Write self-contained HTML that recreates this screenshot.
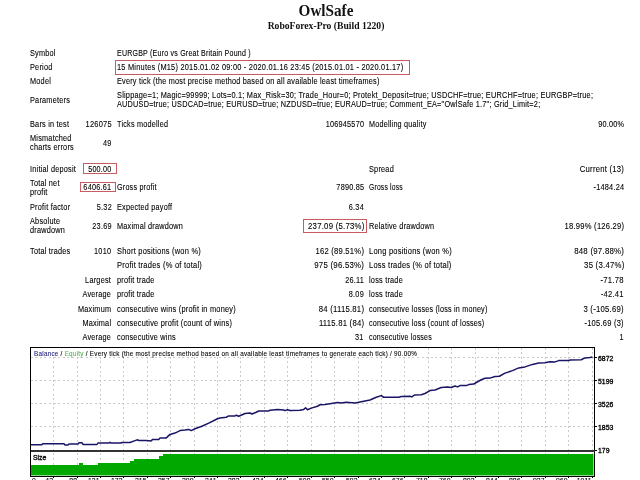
<!DOCTYPE html>
<html><head><meta charset="utf-8"><style>
html,body{margin:0;padding:0;background:#fff;width:640px;height:480px;overflow:hidden;position:relative}
.t{position:absolute;white-space:nowrap;line-height:1;font-family:"Liberation Sans",sans-serif;color:#000;-webkit-text-stroke:0.1px #000}
.bx{position:absolute;border:1px solid #c85a62;box-sizing:border-box}
.h1{position:absolute;left:0;width:652px;text-align:center;font-family:"Liberation Serif",serif;font-weight:bold;color:#111;line-height:1;white-space:nowrap}
</style></head><body>
<div class="bx" style="left:115.0px;top:60.0px;width:295.0px;height:15.0px"></div>
<div class="bx" style="left:83.0px;top:163.0px;width:34.0px;height:11.0px"></div>
<div class="bx" style="left:80.0px;top:182.0px;width:36.0px;height:10.0px"></div>
<div class="bx" style="left:303.0px;top:219.0px;width:64.0px;height:14.0px"></div>
<div style="position:absolute;left:0;top:0;width:640px;height:480px;filter:grayscale(1)">
<div class="h1" style="top:2.83px;font-size:15.9px;transform:scaleX(0.955);transform-origin:326px 0">OwlSafe</div>
<div class="h1" style="top:20.90px;font-size:9.65px">RoboForex-Pro (Build 1220)</div>
<div class="t" style="top:50.00px;font-size:8.2px;letter-spacing:0.25px;left:29.70px;transform:scaleX(0.8930);transform-origin:0 0;">Symbol</div>
<div class="t" style="top:64.00px;font-size:8.2px;letter-spacing:0.25px;left:29.70px;transform:scaleX(0.8930);transform-origin:0 0;">Period</div>
<div class="t" style="top:78.00px;font-size:8.2px;letter-spacing:0.25px;left:29.70px;transform:scaleX(0.8930);transform-origin:0 0;">Model</div>
<div class="t" style="top:97.00px;font-size:8.2px;letter-spacing:0.25px;left:29.70px;transform:scaleX(0.8930);transform-origin:0 0;">Parameters</div>
<div class="t" style="top:121.00px;font-size:8.2px;letter-spacing:0.25px;left:29.70px;transform:scaleX(0.8930);transform-origin:0 0;">Bars in test</div>
<div class="t" style="top:135.00px;font-size:8.2px;letter-spacing:0.25px;left:29.70px;transform:scaleX(0.8930);transform-origin:0 0;">Mismatched</div>
<div class="t" style="top:144.00px;font-size:8.2px;letter-spacing:0.25px;left:29.70px;transform:scaleX(0.8930);transform-origin:0 0;">charts errors</div>
<div class="t" style="top:166.00px;font-size:8.2px;letter-spacing:0.25px;left:29.70px;transform:scaleX(0.8930);transform-origin:0 0;">Initial deposit</div>
<div class="t" style="top:180.00px;font-size:8.2px;letter-spacing:0.25px;left:29.70px;transform:scaleX(0.8930);transform-origin:0 0;">Total net</div>
<div class="t" style="top:189.00px;font-size:8.2px;letter-spacing:0.25px;left:29.70px;transform:scaleX(0.8930);transform-origin:0 0;">profit</div>
<div class="t" style="top:204.00px;font-size:8.2px;letter-spacing:0.25px;left:29.70px;transform:scaleX(0.8930);transform-origin:0 0;">Profit factor</div>
<div class="t" style="top:218.00px;font-size:8.2px;letter-spacing:0.25px;left:29.70px;transform:scaleX(0.8930);transform-origin:0 0;">Absolute</div>
<div class="t" style="top:227.00px;font-size:8.2px;letter-spacing:0.25px;left:29.70px;transform:scaleX(0.8930);transform-origin:0 0;">drawdown</div>
<div class="t" style="top:248.00px;font-size:8.2px;letter-spacing:0.25px;left:29.70px;transform:scaleX(0.8930);transform-origin:0 0;">Total trades</div>
<div class="t" style="top:50.00px;font-size:8.2px;letter-spacing:0.25px;left:117.00px;transform:scaleX(0.8594);transform-origin:0 0;">EURGBP (Euro vs Great Britain Pound )</div>
<div class="t" style="top:64.00px;font-size:8.2px;letter-spacing:0.25px;left:117.00px;transform:scaleX(0.9028);transform-origin:0 0;">15 Minutes (M15) 2015.01.02 09:00 - 2020.01.16 23:45 (2015.01.01 - 2020.01.17)</div>
<div class="t" style="top:78.00px;font-size:8.2px;letter-spacing:0.25px;left:117.00px;transform:scaleX(0.8896);transform-origin:0 0;">Every tick (the most precise method based on all available least timeframes)</div>
<div class="t" style="top:92.00px;font-size:8.2px;letter-spacing:0.25px;left:117.00px;transform:scaleX(0.8977);transform-origin:0 0;">Slippage=1; Magic=99999; Lots=0.1; Max_Risk=30; Trade_Hour=0; Protekt_Deposit=true; USDCHF=true; EURCHF=true; EURGBP=true;</div>
<div class="t" style="top:101.00px;font-size:8.2px;letter-spacing:0.25px;left:117.00px;transform:scaleX(0.8909);transform-origin:0 0;">AUDUSD=true; USDCAD=true; EURUSD=true; NZDUSD=true; EURAUD=true; Comment_EA="OwlSafe 1.7"; Grid_Limit=2;</div>
<div class="t" style="top:121.00px;font-size:8.2px;letter-spacing:0.25px;right:528.50px;transform:scaleX(0.9117);transform-origin:100% 0;">126075</div>
<div class="t" style="top:140.00px;font-size:8.2px;letter-spacing:0.25px;right:528.50px;transform:scaleX(0.8930);transform-origin:100% 0;">49</div>
<div class="t" style="top:166.00px;font-size:8.2px;letter-spacing:0.25px;right:528.50px;transform:scaleX(0.8814);transform-origin:100% 0;">500.00</div>
<div class="t" style="top:184.00px;font-size:8.2px;letter-spacing:0.25px;right:528.50px;transform:scaleX(0.8933);transform-origin:100% 0;">6406.61</div>
<div class="t" style="top:204.00px;font-size:8.2px;letter-spacing:0.25px;right:528.50px;transform:scaleX(0.8930);transform-origin:100% 0;">5.32</div>
<div class="t" style="top:223.00px;font-size:8.2px;letter-spacing:0.25px;right:528.50px;transform:scaleX(0.8930);transform-origin:100% 0;">23.69</div>
<div class="t" style="top:248.00px;font-size:8.2px;letter-spacing:0.25px;right:528.50px;transform:scaleX(0.8930);transform-origin:100% 0;">1010</div>
<div class="t" style="top:277.00px;font-size:8.2px;letter-spacing:0.25px;right:528.50px;transform:scaleX(0.8930);transform-origin:100% 0;">Largest</div>
<div class="t" style="top:291.00px;font-size:8.2px;letter-spacing:0.25px;right:528.50px;transform:scaleX(0.8930);transform-origin:100% 0;">Average</div>
<div class="t" style="top:306.00px;font-size:8.2px;letter-spacing:0.25px;right:528.50px;transform:scaleX(0.8930);transform-origin:100% 0;">Maximum</div>
<div class="t" style="top:320.00px;font-size:8.2px;letter-spacing:0.25px;right:528.50px;transform:scaleX(0.8930);transform-origin:100% 0;">Maximal</div>
<div class="t" style="top:334.00px;font-size:8.2px;letter-spacing:0.25px;right:528.50px;transform:scaleX(0.8930);transform-origin:100% 0;">Average</div>
<div class="t" style="top:121.00px;font-size:8.2px;letter-spacing:0.25px;left:117.00px;transform:scaleX(0.8860);transform-origin:0 0;">Ticks modelled</div>
<div class="t" style="top:184.00px;font-size:8.2px;letter-spacing:0.25px;left:117.00px;transform:scaleX(0.8751);transform-origin:0 0;">Gross profit</div>
<div class="t" style="top:204.00px;font-size:8.2px;letter-spacing:0.25px;left:117.00px;transform:scaleX(0.8868);transform-origin:0 0;">Expected payoff</div>
<div class="t" style="top:223.00px;font-size:8.2px;letter-spacing:0.25px;left:117.00px;transform:scaleX(0.8932);transform-origin:0 0;">Maximal drawdown</div>
<div class="t" style="top:248.00px;font-size:8.2px;letter-spacing:0.25px;left:117.00px;transform:scaleX(0.9108);transform-origin:0 0;">Short positions (won %)</div>
<div class="t" style="top:262.00px;font-size:8.2px;letter-spacing:0.25px;left:117.00px;transform:scaleX(0.9195);transform-origin:0 0;">Profit trades (% of total)</div>
<div class="t" style="top:277.00px;font-size:8.2px;letter-spacing:0.25px;left:117.00px;transform:scaleX(0.8930);transform-origin:0 0;">profit trade</div>
<div class="t" style="top:291.00px;font-size:8.2px;letter-spacing:0.25px;left:117.00px;transform:scaleX(0.8930);transform-origin:0 0;">profit trade</div>
<div class="t" style="top:306.00px;font-size:8.2px;letter-spacing:0.25px;left:117.00px;transform:scaleX(0.9023);transform-origin:0 0;">consecutive wins (profit in money)</div>
<div class="t" style="top:320.00px;font-size:8.2px;letter-spacing:0.25px;left:117.00px;transform:scaleX(0.9012);transform-origin:0 0;">consecutive profit (count of wins)</div>
<div class="t" style="top:334.00px;font-size:8.2px;letter-spacing:0.25px;left:117.00px;transform:scaleX(0.8930);transform-origin:0 0;">consecutive wins</div>
<div class="t" style="top:121.00px;font-size:8.2px;letter-spacing:0.25px;right:276.00px;transform:scaleX(0.8930);transform-origin:100% 0;">106945570</div>
<div class="t" style="top:184.00px;font-size:8.2px;letter-spacing:0.25px;right:276.00px;transform:scaleX(0.8930);transform-origin:100% 0;">7890.85</div>
<div class="t" style="top:204.00px;font-size:8.2px;letter-spacing:0.25px;right:276.00px;transform:scaleX(0.8930);transform-origin:100% 0;">6.34</div>
<div class="t" style="top:223.00px;font-size:8.2px;letter-spacing:0.25px;right:276.00px;transform:scaleX(0.9486);transform-origin:100% 0;">237.09 (5.73%)</div>
<div class="t" style="top:248.00px;font-size:8.2px;letter-spacing:0.25px;right:276.00px;transform:scaleX(0.9339);transform-origin:100% 0;">162 (89.51%)</div>
<div class="t" style="top:262.00px;font-size:8.2px;letter-spacing:0.25px;right:276.00px;transform:scaleX(0.9576);transform-origin:100% 0;">975 (96.53%)</div>
<div class="t" style="top:277.00px;font-size:8.2px;letter-spacing:0.25px;right:276.00px;transform:scaleX(0.8930);transform-origin:100% 0;">26.11</div>
<div class="t" style="top:291.00px;font-size:8.2px;letter-spacing:0.25px;right:276.00px;transform:scaleX(0.8930);transform-origin:100% 0;">8.09</div>
<div class="t" style="top:306.00px;font-size:8.2px;letter-spacing:0.25px;right:276.00px;transform:scaleX(0.9441);transform-origin:100% 0;">84 (1115.81)</div>
<div class="t" style="top:320.00px;font-size:8.2px;letter-spacing:0.25px;right:276.00px;transform:scaleX(0.9399);transform-origin:100% 0;">1115.81 (84)</div>
<div class="t" style="top:334.00px;font-size:8.2px;letter-spacing:0.25px;right:276.00px;transform:scaleX(0.8930);transform-origin:100% 0;">31</div>
<div class="t" style="top:121.00px;font-size:8.2px;letter-spacing:0.25px;left:368.90px;transform:scaleX(0.8807);transform-origin:0 0;">Modelling quality</div>
<div class="t" style="top:166.00px;font-size:8.2px;letter-spacing:0.25px;left:368.90px;transform:scaleX(0.8930);transform-origin:0 0;">Spread</div>
<div class="t" style="top:184.00px;font-size:8.2px;letter-spacing:0.25px;left:368.90px;transform:scaleX(0.8241);transform-origin:0 0;">Gross loss</div>
<div class="t" style="top:223.00px;font-size:8.2px;letter-spacing:0.25px;left:368.90px;transform:scaleX(0.8903);transform-origin:0 0;">Relative drawdown</div>
<div class="t" style="top:248.00px;font-size:8.2px;letter-spacing:0.25px;left:368.90px;transform:scaleX(0.9153);transform-origin:0 0;">Long positions (won %)</div>
<div class="t" style="top:262.00px;font-size:8.2px;letter-spacing:0.25px;left:368.90px;transform:scaleX(0.9157);transform-origin:0 0;">Loss trades (% of total)</div>
<div class="t" style="top:277.00px;font-size:8.2px;letter-spacing:0.25px;left:368.90px;transform:scaleX(0.8930);transform-origin:0 0;">loss trade</div>
<div class="t" style="top:291.00px;font-size:8.2px;letter-spacing:0.25px;left:368.90px;transform:scaleX(0.8930);transform-origin:0 0;">loss trade</div>
<div class="t" style="top:306.00px;font-size:8.2px;letter-spacing:0.25px;left:368.90px;transform:scaleX(0.8781);transform-origin:0 0;">consecutive losses (loss in money)</div>
<div class="t" style="top:320.00px;font-size:8.2px;letter-spacing:0.25px;left:368.90px;transform:scaleX(0.8822);transform-origin:0 0;">consecutive loss (count of losses)</div>
<div class="t" style="top:334.00px;font-size:8.2px;letter-spacing:0.25px;left:368.90px;transform:scaleX(0.8600);transform-origin:0 0;">consecutive losses</div>
<div class="t" style="top:121.00px;font-size:8.2px;letter-spacing:0.25px;right:15.90px;transform:scaleX(0.8930);transform-origin:100% 0;">90.00%</div>
<div class="t" style="top:166.00px;font-size:8.2px;letter-spacing:0.25px;right:15.90px;transform:scaleX(0.9411);transform-origin:100% 0;">Current (13)</div>
<div class="t" style="top:184.00px;font-size:8.2px;letter-spacing:0.25px;right:15.90px;transform:scaleX(0.8991);transform-origin:100% 0;">-1484.24</div>
<div class="t" style="top:223.00px;font-size:8.2px;letter-spacing:0.25px;right:15.90px;transform:scaleX(0.9284);transform-origin:100% 0;">18.99% (126.29)</div>
<div class="t" style="top:248.00px;font-size:8.2px;letter-spacing:0.25px;right:15.90px;transform:scaleX(0.9585);transform-origin:100% 0;">848 (97.88%)</div>
<div class="t" style="top:262.00px;font-size:8.2px;letter-spacing:0.25px;right:15.90px;transform:scaleX(0.9510);transform-origin:100% 0;">35 (3.47%)</div>
<div class="t" style="top:277.00px;font-size:8.2px;letter-spacing:0.25px;right:15.90px;transform:scaleX(0.9403);transform-origin:100% 0;">-71.78</div>
<div class="t" style="top:291.00px;font-size:8.2px;letter-spacing:0.25px;right:15.90px;transform:scaleX(0.9320);transform-origin:100% 0;">-42.41</div>
<div class="t" style="top:306.00px;font-size:8.2px;letter-spacing:0.25px;right:15.90px;transform:scaleX(0.9439);transform-origin:100% 0;">3 (-105.69)</div>
<div class="t" style="top:320.00px;font-size:8.2px;letter-spacing:0.25px;right:15.90px;transform:scaleX(0.9197);transform-origin:100% 0;">-105.69 (3)</div>
<div class="t" style="top:334.00px;font-size:8.2px;letter-spacing:0.25px;right:15.90px;transform:scaleX(0.8930);transform-origin:100% 0;">1</div>
</div>
<svg width="640" height="480" style="position:absolute;left:0;top:0" shape-rendering="crispEdges">
<line x1="53.5" y1="347.5" x2="53.5" y2="476.5" stroke="#cacaca" stroke-width="1" stroke-dasharray="2,2.6"/>
<line x1="53.5" y1="476.5" x2="53.5" y2="477.5" stroke="#000" stroke-width="1"/>
<line x1="77.5" y1="347.5" x2="77.5" y2="476.5" stroke="#cacaca" stroke-width="1" stroke-dasharray="2,2.6"/>
<line x1="77.5" y1="476.5" x2="77.5" y2="477.5" stroke="#000" stroke-width="1"/>
<line x1="100.5" y1="347.5" x2="100.5" y2="476.5" stroke="#cacaca" stroke-width="1" stroke-dasharray="2,2.6"/>
<line x1="100.5" y1="476.5" x2="100.5" y2="477.5" stroke="#000" stroke-width="1"/>
<line x1="123.5" y1="347.5" x2="123.5" y2="476.5" stroke="#cacaca" stroke-width="1" stroke-dasharray="2,2.6"/>
<line x1="123.5" y1="476.5" x2="123.5" y2="477.5" stroke="#000" stroke-width="1"/>
<line x1="147.5" y1="347.5" x2="147.5" y2="476.5" stroke="#cacaca" stroke-width="1" stroke-dasharray="2,2.6"/>
<line x1="147.5" y1="476.5" x2="147.5" y2="477.5" stroke="#000" stroke-width="1"/>
<line x1="170.5" y1="347.5" x2="170.5" y2="476.5" stroke="#cacaca" stroke-width="1" stroke-dasharray="2,2.6"/>
<line x1="170.5" y1="476.5" x2="170.5" y2="477.5" stroke="#000" stroke-width="1"/>
<line x1="194.5" y1="347.5" x2="194.5" y2="476.5" stroke="#cacaca" stroke-width="1" stroke-dasharray="2,2.6"/>
<line x1="194.5" y1="476.5" x2="194.5" y2="477.5" stroke="#000" stroke-width="1"/>
<line x1="217.5" y1="347.5" x2="217.5" y2="476.5" stroke="#cacaca" stroke-width="1" stroke-dasharray="2,2.6"/>
<line x1="217.5" y1="476.5" x2="217.5" y2="477.5" stroke="#000" stroke-width="1"/>
<line x1="240.5" y1="347.5" x2="240.5" y2="476.5" stroke="#cacaca" stroke-width="1" stroke-dasharray="2,2.6"/>
<line x1="240.5" y1="476.5" x2="240.5" y2="477.5" stroke="#000" stroke-width="1"/>
<line x1="264.5" y1="347.5" x2="264.5" y2="476.5" stroke="#cacaca" stroke-width="1" stroke-dasharray="2,2.6"/>
<line x1="264.5" y1="476.5" x2="264.5" y2="477.5" stroke="#000" stroke-width="1"/>
<line x1="287.5" y1="347.5" x2="287.5" y2="476.5" stroke="#cacaca" stroke-width="1" stroke-dasharray="2,2.6"/>
<line x1="287.5" y1="476.5" x2="287.5" y2="477.5" stroke="#000" stroke-width="1"/>
<line x1="311.5" y1="347.5" x2="311.5" y2="476.5" stroke="#cacaca" stroke-width="1" stroke-dasharray="2,2.6"/>
<line x1="311.5" y1="476.5" x2="311.5" y2="477.5" stroke="#000" stroke-width="1"/>
<line x1="334.5" y1="347.5" x2="334.5" y2="476.5" stroke="#cacaca" stroke-width="1" stroke-dasharray="2,2.6"/>
<line x1="334.5" y1="476.5" x2="334.5" y2="477.5" stroke="#000" stroke-width="1"/>
<line x1="358.5" y1="347.5" x2="358.5" y2="476.5" stroke="#cacaca" stroke-width="1" stroke-dasharray="2,2.6"/>
<line x1="358.5" y1="476.5" x2="358.5" y2="477.5" stroke="#000" stroke-width="1"/>
<line x1="381.5" y1="347.5" x2="381.5" y2="476.5" stroke="#cacaca" stroke-width="1" stroke-dasharray="2,2.6"/>
<line x1="381.5" y1="476.5" x2="381.5" y2="477.5" stroke="#000" stroke-width="1"/>
<line x1="404.5" y1="347.5" x2="404.5" y2="476.5" stroke="#cacaca" stroke-width="1" stroke-dasharray="2,2.6"/>
<line x1="404.5" y1="476.5" x2="404.5" y2="477.5" stroke="#000" stroke-width="1"/>
<line x1="428.5" y1="347.5" x2="428.5" y2="476.5" stroke="#cacaca" stroke-width="1" stroke-dasharray="2,2.6"/>
<line x1="428.5" y1="476.5" x2="428.5" y2="477.5" stroke="#000" stroke-width="1"/>
<line x1="451.5" y1="347.5" x2="451.5" y2="476.5" stroke="#cacaca" stroke-width="1" stroke-dasharray="2,2.6"/>
<line x1="451.5" y1="476.5" x2="451.5" y2="477.5" stroke="#000" stroke-width="1"/>
<line x1="475.5" y1="347.5" x2="475.5" y2="476.5" stroke="#cacaca" stroke-width="1" stroke-dasharray="2,2.6"/>
<line x1="475.5" y1="476.5" x2="475.5" y2="477.5" stroke="#000" stroke-width="1"/>
<line x1="498.5" y1="347.5" x2="498.5" y2="476.5" stroke="#cacaca" stroke-width="1" stroke-dasharray="2,2.6"/>
<line x1="498.5" y1="476.5" x2="498.5" y2="477.5" stroke="#000" stroke-width="1"/>
<line x1="521.5" y1="347.5" x2="521.5" y2="476.5" stroke="#cacaca" stroke-width="1" stroke-dasharray="2,2.6"/>
<line x1="521.5" y1="476.5" x2="521.5" y2="477.5" stroke="#000" stroke-width="1"/>
<line x1="545.5" y1="347.5" x2="545.5" y2="476.5" stroke="#cacaca" stroke-width="1" stroke-dasharray="2,2.6"/>
<line x1="545.5" y1="476.5" x2="545.5" y2="477.5" stroke="#000" stroke-width="1"/>
<line x1="568.5" y1="347.5" x2="568.5" y2="476.5" stroke="#cacaca" stroke-width="1" stroke-dasharray="2,2.6"/>
<line x1="568.5" y1="476.5" x2="568.5" y2="477.5" stroke="#000" stroke-width="1"/>
<line x1="592.5" y1="347.5" x2="592.5" y2="476.5" stroke="#cacaca" stroke-width="1" stroke-dasharray="2,2.6"/>
<line x1="592.5" y1="476.5" x2="592.5" y2="477.5" stroke="#000" stroke-width="1"/>
<line x1="30.5" y1="357.5" x2="594.5" y2="357.5" stroke="#cacaca" stroke-width="1" stroke-dasharray="2,2.6"/>
<line x1="594.5" y1="357.5" x2="596.5" y2="357.5" stroke="#000" stroke-width="1"/>
<line x1="30.5" y1="380.5" x2="594.5" y2="380.5" stroke="#cacaca" stroke-width="1" stroke-dasharray="2,2.6"/>
<line x1="594.5" y1="380.5" x2="596.5" y2="380.5" stroke="#000" stroke-width="1"/>
<line x1="30.5" y1="403.5" x2="594.5" y2="403.5" stroke="#cacaca" stroke-width="1" stroke-dasharray="2,2.6"/>
<line x1="594.5" y1="403.5" x2="596.5" y2="403.5" stroke="#000" stroke-width="1"/>
<line x1="30.5" y1="426.5" x2="594.5" y2="426.5" stroke="#cacaca" stroke-width="1" stroke-dasharray="2,2.6"/>
<line x1="594.5" y1="426.5" x2="596.5" y2="426.5" stroke="#000" stroke-width="1"/>
<line x1="594.5" y1="450.5" x2="596.5" y2="450.5" stroke="#000" stroke-width="1"/>
<rect x="31" y="348" width="386" height="9" fill="#fff"/>
<polygon points="31,465 79,465 79,462.75 83,462.75 83,465 97.5,465 97.5,463 129.5,463 129.5,460.75 133.75,460.75 133.75,458.75 158.75,458.75 158.75,456.25 162.5,456.25 162.5,454 593,454 593,476 31,476" fill="#00a800"/>
<rect x="31" y="475" width="563" height="1" fill="#90d890"/>
<rect x="593" y="454" width="1" height="22" fill="#90d890"/>
</svg>
<svg width="640" height="480" style="position:absolute;left:0;top:0">
<polyline points="31,444.75 42,444.75 42.5,443.75 64,443.75 65,445 68,445 69,444 78,444 79,442.75 82,442.75 83,444.4 97,444.4 98,443.1 108.75,443.1 110,442.25 111,443.1 121,443.1 122,442.5 130,442.5 135,440.6 137.75,439.8 138.75,440.6 146.25,440.6 151,440.9 152.5,439.6 158.75,439.6 160,437.9 166.25,437.9 170,434.4 175,433.1 180,430.6 185,430 188.75,429.4 191.25,430.6 195,428.75 202.5,426 208.75,423.1 217.5,418.75 220,418.1 226.25,417.25 228.75,415.9 235,415.9 236.25,415.25 238.75,416.25 245,413.5 250,412.9 251.9,414 256.25,412.25 258.75,411 262.5,410.9 268.75,410.9 270,410.25 277.5,409.6 283.75,410 285,410.6 287.5,409.75 290,410.4 300,410.25 303.75,409.4 305.6,407.75 307.5,409.75 311.25,408.1 317.5,406.25 320,404.75 325,404.4 330,403.7 337.5,402.5 341.25,403.1 346.25,402.25 355,403.1 362.5,401.5 370,400 376.25,397.25 381.25,395.6 383.75,397.25 398.75,397.25 401.25,396.5 410,396.25 411.9,396.9 414.4,395 421.25,394.75 425,393.5 430,390.6 435,390 441.25,387.5 447.5,386.9 451.25,387.5 455,386 457.5,386.9 460,385.6 466.25,385.6 468.75,384.6 473.75,384.1 476.25,382.5 481.25,379.75 485,378.3 490,378.1 495,376.5 499.4,376.25 505,373.1 512.5,370.6 518.75,367.9 525,366.9 532.5,364.4 538.75,363.1 545,362.75 550,361.7 555,361.9 558.75,360.6 568.75,360.6 570,360 581.25,359.75 585,357.9 590,357.5 592.5,356.9" fill="none" stroke="#1a1466" stroke-width="1.5" stroke-linejoin="round"/>
</svg>
<svg width="640" height="480" style="position:absolute;left:0;top:0" shape-rendering="crispEdges">
<rect x="30.5" y="347.5" width="564.0" height="129.0" fill="none" stroke="#000" stroke-width="1"/>
<rect x="30.5" y="450" width="564.0" height="2" fill="#333"/>
</svg>
<div class="t" style="top:351.17px;font-size:6.3px;letter-spacing:0.25px;left:33.50px;transform:scaleX(1.004);transform-origin:0 0;-webkit-text-stroke:0.08px currentColor"><span style="color:#20207a">Balance</span> / <span style="color:#4cb84c">Equity</span> / Every tick (the most precise method based on all available least timeframes to generate each tick) / 90.00%</div>
<div class="t" style="top:455.17px;font-size:6.3px;letter-spacing:0px;left:33.00px;transform:scaleX(1.09);transform-origin:0 0;-webkit-text-stroke:0.3px currentColor">Size</div>
<div class="t" style="top:356.37px;font-size:6.3px;letter-spacing:0px;left:598.00px;transform:scaleX(1.09);transform-origin:0 0;-webkit-text-stroke:0.3px currentColor">6872</div>
<div class="t" style="top:379.37px;font-size:6.3px;letter-spacing:0px;left:598.00px;transform:scaleX(1.09);transform-origin:0 0;-webkit-text-stroke:0.3px currentColor">5199</div>
<div class="t" style="top:402.37px;font-size:6.3px;letter-spacing:0px;left:598.00px;transform:scaleX(1.09);transform-origin:0 0;-webkit-text-stroke:0.3px currentColor">3526</div>
<div class="t" style="top:425.37px;font-size:6.3px;letter-spacing:0px;left:598.00px;transform:scaleX(1.09);transform-origin:0 0;-webkit-text-stroke:0.3px currentColor">1853</div>
<div class="t" style="top:448.37px;font-size:6.3px;letter-spacing:0px;left:598.00px;transform:scaleX(1.09);transform-origin:0 0;-webkit-text-stroke:0.3px currentColor">179</div>
<div class="t" style="top:478.47px;font-size:6.3px;letter-spacing:0px;left:32.00px;transform:scaleX(1.09);transform-origin:0 0;-webkit-text-stroke:0.1px currentColor">0</div>
<div class="t" style="top:478.47px;font-size:6.3px;letter-spacing:0px;right:587.00px;transform:scaleX(1.09);transform-origin:100% 0;-webkit-text-stroke:0.1px currentColor">42</div>
<div class="t" style="top:478.47px;font-size:6.3px;letter-spacing:0px;right:563.00px;transform:scaleX(1.09);transform-origin:100% 0;-webkit-text-stroke:0.1px currentColor">88</div>
<div class="t" style="top:478.47px;font-size:6.3px;letter-spacing:0px;right:540.00px;transform:scaleX(1.09);transform-origin:100% 0;-webkit-text-stroke:0.1px currentColor">131</div>
<div class="t" style="top:478.47px;font-size:6.3px;letter-spacing:0px;right:517.00px;transform:scaleX(1.09);transform-origin:100% 0;-webkit-text-stroke:0.1px currentColor">173</div>
<div class="t" style="top:478.47px;font-size:6.3px;letter-spacing:0px;right:493.00px;transform:scaleX(1.09);transform-origin:100% 0;-webkit-text-stroke:0.1px currentColor">215</div>
<div class="t" style="top:478.47px;font-size:6.3px;letter-spacing:0px;right:470.00px;transform:scaleX(1.09);transform-origin:100% 0;-webkit-text-stroke:0.1px currentColor">257</div>
<div class="t" style="top:478.47px;font-size:6.3px;letter-spacing:0px;right:446.00px;transform:scaleX(1.09);transform-origin:100% 0;-webkit-text-stroke:0.1px currentColor">299</div>
<div class="t" style="top:478.47px;font-size:6.3px;letter-spacing:0px;right:423.00px;transform:scaleX(1.09);transform-origin:100% 0;-webkit-text-stroke:0.1px currentColor">341</div>
<div class="t" style="top:478.47px;font-size:6.3px;letter-spacing:0px;right:400.00px;transform:scaleX(1.09);transform-origin:100% 0;-webkit-text-stroke:0.1px currentColor">383</div>
<div class="t" style="top:478.47px;font-size:6.3px;letter-spacing:0px;right:376.00px;transform:scaleX(1.09);transform-origin:100% 0;-webkit-text-stroke:0.1px currentColor">424</div>
<div class="t" style="top:478.47px;font-size:6.3px;letter-spacing:0px;right:353.00px;transform:scaleX(1.09);transform-origin:100% 0;-webkit-text-stroke:0.1px currentColor">466</div>
<div class="t" style="top:478.47px;font-size:6.3px;letter-spacing:0px;right:329.00px;transform:scaleX(1.09);transform-origin:100% 0;-webkit-text-stroke:0.1px currentColor">508</div>
<div class="t" style="top:478.47px;font-size:6.3px;letter-spacing:0px;right:306.00px;transform:scaleX(1.09);transform-origin:100% 0;-webkit-text-stroke:0.1px currentColor">550</div>
<div class="t" style="top:478.47px;font-size:6.3px;letter-spacing:0px;right:282.00px;transform:scaleX(1.09);transform-origin:100% 0;-webkit-text-stroke:0.1px currentColor">592</div>
<div class="t" style="top:478.47px;font-size:6.3px;letter-spacing:0px;right:259.00px;transform:scaleX(1.09);transform-origin:100% 0;-webkit-text-stroke:0.1px currentColor">634</div>
<div class="t" style="top:478.47px;font-size:6.3px;letter-spacing:0px;right:236.00px;transform:scaleX(1.09);transform-origin:100% 0;-webkit-text-stroke:0.1px currentColor">676</div>
<div class="t" style="top:478.47px;font-size:6.3px;letter-spacing:0px;right:212.00px;transform:scaleX(1.09);transform-origin:100% 0;-webkit-text-stroke:0.1px currentColor">718</div>
<div class="t" style="top:478.47px;font-size:6.3px;letter-spacing:0px;right:189.00px;transform:scaleX(1.09);transform-origin:100% 0;-webkit-text-stroke:0.1px currentColor">760</div>
<div class="t" style="top:478.47px;font-size:6.3px;letter-spacing:0px;right:165.00px;transform:scaleX(1.09);transform-origin:100% 0;-webkit-text-stroke:0.1px currentColor">802</div>
<div class="t" style="top:478.47px;font-size:6.3px;letter-spacing:0px;right:142.00px;transform:scaleX(1.09);transform-origin:100% 0;-webkit-text-stroke:0.1px currentColor">844</div>
<div class="t" style="top:478.47px;font-size:6.3px;letter-spacing:0px;right:119.00px;transform:scaleX(1.09);transform-origin:100% 0;-webkit-text-stroke:0.1px currentColor">886</div>
<div class="t" style="top:478.47px;font-size:6.3px;letter-spacing:0px;right:95.00px;transform:scaleX(1.09);transform-origin:100% 0;-webkit-text-stroke:0.1px currentColor">927</div>
<div class="t" style="top:478.47px;font-size:6.3px;letter-spacing:0px;right:72.00px;transform:scaleX(1.09);transform-origin:100% 0;-webkit-text-stroke:0.1px currentColor">969</div>
<div class="t" style="top:478.47px;font-size:6.3px;letter-spacing:0px;right:48.00px;transform:scaleX(1.09);transform-origin:100% 0;-webkit-text-stroke:0.1px currentColor">1011</div>
</body></html>
